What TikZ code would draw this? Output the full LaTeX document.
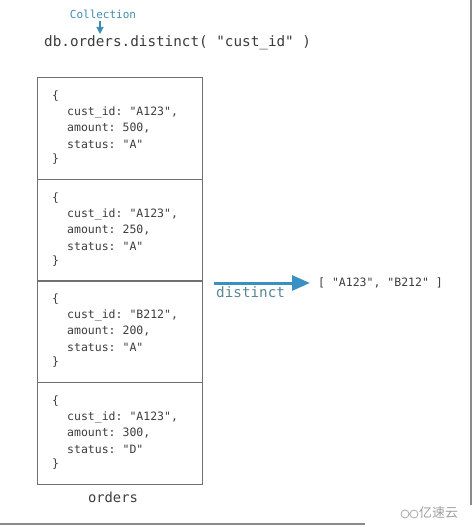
\documentclass[tikz,border=0pt]{standalone}
\usepackage{fontspec}
\setmainfont{DejaVu Sans}
\setmonofont{DejaVu Sans Mono}
\newfontfamily\cjkfont{Noto Sans CJK SC}
\usetikzlibrary{arrows.meta}
\definecolor{txt}{HTML}{3C3C3C}
\definecolor{boxline}{HTML}{707070}
\definecolor{teal}{HTML}{3F8CB0}
\definecolor{arrowblue}{HTML}{3A8FC4}
\definecolor{distc}{HTML}{5A8796}
\definecolor{frame}{HTML}{8A8A8A}
\tikzset{
  doc/.style={font=\fontsize{11.5}{13}\selectfont\ttfamily, text=txt, anchor=west, inner sep=0pt},
  section/.style={draw=boxline, line width=1.4pt, minimum width=165pt, minimum height=102pt, inner sep=0pt, anchor=north west},
}
\newcommand{\docsection}[5]{%
  % #1 name, #2 top y, #3 cust, #4 amount, #5 status
  \node[section] (#1) at (37,#2) {};
  \node[doc] (#1ob) at (52,#2+19) {\{};
  \node[doc] (#1c) at (67,#2+35) {cust\_id: "#3",};
  \node[doc] (#1a) at (67,#2+51) {amount: #4,};
  \node[doc] (#1s) at (67,#2+67) {status: "#5"};
  \node[doc] (#1cb) at (52,#2+82) {\}};
}
\begin{document}
\begin{tikzpicture}[x=1pt,y=-1pt]
\useasboundingbox (0,0) rectangle (474,527);
% frame lines
\draw[frame, line width=1.5pt] (471,0) -- (471,505);
\draw[frame, line width=1.5pt] (0,524) -- (365,524);

% title
\node[font=\fontsize{11}{13}\selectfont\ttfamily, text=teal, inner sep=0pt] (coll) at (103,14) {Collection};
\node[font=\fontsize{14.3}{16}\selectfont\ttfamily, text=txt, anchor=west, inner sep=0pt] (cmd) at (44,43) {db.orders.distinct( "cust\_id" )};
\coordinate (collend) at (100,34);
\draw[teal, line width=1.2pt, -{Triangle[length=7pt,width=7pt]}] (100,21) -- (collend);

% documents
\docsection{d1}{77}{A123}{500}{A}
\docsection{d2}{179}{A123}{250}{A}
\docsection{d3}{280}{B212}{200}{A}
\docsection{d4}{382}{A123}{300}{D}

\node[font=\fontsize{13.8}{16}\selectfont\ttfamily, text=txt, inner sep=0pt] (orders) at (113,497) {orders};

% distinct arrow
\node[doc] (res) at (318,283) {[ "A123", "B212" ]};
\coordinate (dstart) at (214,283);
\draw[arrowblue, line width=3pt, -{Triangle[length=18pt,width=15pt]}] (dstart) -- ([xshift=-8pt]res.west);
\node[font=\fontsize{14.3}{16}\selectfont\ttfamily, text=distc, anchor=west, inner sep=0pt] (dist) at (216,292) {distinct};

% watermark
\draw[gray!60, line width=0.9pt] (405,514) circle (4pt) (414,514) circle (4pt);
\node[font=\fontsize{13}{15}\selectfont\cjkfont, text=gray!75, anchor=west, inner sep=0pt] (wm) at (419,513) {亿速云};
\end{tikzpicture}
\end{document}
